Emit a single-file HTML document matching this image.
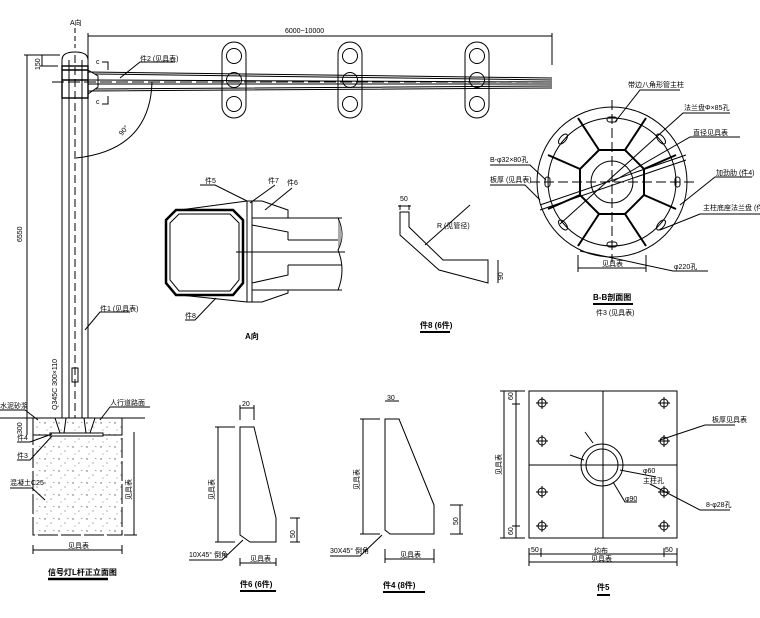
<!DOCTYPE html>
<html><head><meta charset="utf-8"><style>
html,body{margin:0;padding:0;background:#fff}
svg{display:block}
text{font-family:"Liberation Sans","Noto Sans CJK SC",sans-serif;fill:#000}
.t{font-size:7px}
.b{font-size:8px;font-weight:bold}
</style></head><body>
<svg width="760" height="618" viewBox="0 0 760 618" xmlns="http://www.w3.org/2000/svg" fill="none" stroke="#000" stroke-width="1">
<defs>
<pattern id="conc" width="14" height="12" patternUnits="userSpaceOnUse">
<circle cx="3" cy="3" r="0.7" fill="#555" stroke="none"/><circle cx="9" cy="7" r="0.6" fill="#777" stroke="none"/><circle cx="5" cy="10" r="0.5" fill="#666" stroke="none"/><path d="M11 2l1.5 1" stroke="#777" stroke-width="0.6"/>
</pattern>
</defs>
<!-- A arrow -->
<text x="70" y="25" class="t" stroke="none">A向</text>
<line x1="75" y1="28" x2="75" y2="48" stroke-dasharray="5 3"/>
<!-- top dim -->
<line x1="88" y1="36" x2="552" y2="36"/>
<line x1="88" y1="33" x2="88" y2="65"/><line x1="552" y1="33" x2="552" y2="65"/>
<text x="285" y="33" class="t" stroke="none">6000~10000</text>
<!-- pole -->
<path d="M62 418 V60 Q62 52 75 52 Q88 52 88 60 V418"/>
<line x1="69" y1="60" x2="69" y2="418"/><line x1="82" y1="60" x2="82" y2="418"/>
<line x1="75" y1="55" x2="75" y2="418" stroke-dasharray="8 4"/>
<rect x="62" y="66" width="26" height="32" stroke-width="1.4"/>
<line x1="62" y1="70" x2="88" y2="70" stroke-width="1.5"/><line x1="62" y1="80" x2="88" y2="80" stroke-width="1.5"/>
<rect x="72" y="368" width="6" height="14"/>
<!-- left dims -->
<line x1="27" y1="55" x2="27" y2="418"/><line x1="24" y1="55" x2="60" y2="55"/>
<text transform="translate(22,242) rotate(-90)" class="t" stroke="none">6550</text>
<line x1="42" y1="55" x2="42" y2="66"/><line x1="40" y1="66" x2="58" y2="66"/>
<text transform="translate(40,70) rotate(-90)" class="t" stroke="none">150</text>
<!-- arm -->
<path d="M88 72 L552 78 M88 91 L552 88 M88 80 L552 82 M88 84 L552 84 M95 74 L552 80 M95 89 L552 86"/>
<line x1="52" y1="82" x2="552" y2="82" stroke-dasharray="12 4"/>
<path d="M88 70 L98 76 L98 87 L88 94" />
<text x="96" y="64" class="t" stroke="none">c</text><path d="M102 62h6v8"/>
<text x="96" y="104" class="t" stroke="none">c</text><path d="M102 104h6v-8"/>
<path d="M120 78 L140 62 H175"/><text x="140" y="61" class="t" stroke="none">件2 (见具表)</text>
<!-- 90 arc -->
<path d="M152 82 Q150 150 76 158"/>
<text transform="translate(122,136) rotate(-50)" class="t" stroke="none">90°</text>
<!-- signal heads -->
<g>
<rect x="222" y="42" width="24" height="76" rx="12"/><circle cx="234" cy="56" r="7.5"/><circle cx="234" cy="80" r="7.5"/><circle cx="234" cy="104" r="7.5"/>
<rect x="338" y="42" width="24" height="76" rx="12"/><circle cx="350" cy="56" r="7.5"/><circle cx="350" cy="80" r="7.5"/><circle cx="350" cy="104" r="7.5"/>
<rect x="465" y="42" width="24" height="76" rx="12"/><circle cx="477" cy="56" r="7.5"/><circle cx="477" cy="80" r="7.5"/><circle cx="477" cy="104" r="7.5"/>
</g>
<path d="M85 330 L100 312 H130"/><text x="100" y="311" class="t" stroke="none">件1 (见具表)</text>
<text transform="translate(57,410) rotate(-90)" class="t" stroke="none">Q345C 300×110</text>
<!-- ground / foundation -->
<line x1="0" y1="418" x2="145" y2="418"/>
<rect x="33" y="418" width="89" height="17" fill="url(#conc)"/>
<rect x="33" y="435" width="89" height="100" fill="url(#conc)" stroke-dasharray="20 3"/>
<rect x="50" y="433" width="53" height="3" fill="#fff"/>
<path d="M55 418 L60 433 M95 418 L90 433 M66 418 L64 433 M84 418 L86 433"/>
<text x="0" y="408" class="t" stroke="none">水泥砂浆</text><path d="M0 410 H25 L38 420"/>
<text x="110" y="405" class="t" stroke="none">人行道路面</text><path d="M150 407 H110 L100 420"/>
<line x1="27" y1="418" x2="27" y2="435"/><text transform="translate(22,434) rotate(-90)" class="t" stroke="none">300</text>
<text x="17" y="440" class="t" stroke="none">件4</text><path d="M17 442 H30 L52 434"/>
<text x="17" y="458" class="t" stroke="none">件3</text><path d="M17 460 H30 L52 436"/>
<text x="10" y="485" class="t" stroke="none">混凝土C25</text><path d="M10 488 H32 L45 500"/>
<line x1="134" y1="432" x2="134" y2="535"/><line x1="124" y1="535" x2="137" y2="535"/>
<text transform="translate(131,500) rotate(-90)" class="t" stroke="none">见具表</text>
<line x1="33" y1="550" x2="122" y2="550"/><line x1="33" y1="545" x2="33" y2="554"/><line x1="122" y1="545" x2="122" y2="554"/>
<text x="68" y="548" class="t" stroke="none">见具表</text>
<text x="48" y="575" class="b" stroke="none">信号灯L杆正立面图</text>
<line x1="48" y1="579" x2="108" y2="579" stroke-width="2.5"/>
<!-- A view -->
<path d="M176 210 L233 210 L243 220 L243 283 L233 295 L176 295 L166 283 L166 220 Z" stroke-width="2.5"/>
<path d="M179 214 L230 214 L239 223 L239 280 L230 291 L179 291 L170 280 L170 223 Z"/>
<path d="M180 210 L247 201 M180 295 L247 302"/>
<rect x="247" y="201" width="5" height="101"/>
<path d="M252 201 L262 201 L288 210 V218 M252 302 L262 302 L288 293 V290 M252 218 H342 M252 290 H342 M252 225 L288 232 V240 M252 283 L288 275 V265 M288 240 H342 M288 265 H342 M236 252 H345"/>
<path d="M338 218 Q346 235 338 250 Q346 270 338 290" />
<path d="M338 220 Q346 235 338 248" fill="#aaa" stroke="none"/>
<text x="205" y="183" class="t" stroke="none">件5</text><path d="M200 185 H215 L247 201"/>
<text x="268" y="183" class="t" stroke="none">件7</text><path d="M275 185 L250 203"/>
<text x="287" y="185" class="t" stroke="none">件6</text><path d="M292 188 L265 210"/>
<text x="185" y="318" class="t" stroke="none">件8</text><path d="M185 320 H195 L216 298"/>
<text x="245" y="339" class="b" stroke="none">A向</text>
<!-- part 8 -->
<path d="M400 212 H409 V227 L443 260 H488 V283 L439 270 L400 235 Z"/>
<path d="M400 205 V210 M409 205 V210 M398 206 H411"/><text x="400" y="201" class="t" stroke="none">50</text>
<path d="M425 245 L470 205"/><text x="437" y="228" class="t" stroke="none">R (见管径)</text>
<line x1="498" y1="260" x2="498" y2="283"/><text transform="translate(503,280) rotate(-90)" class="t" stroke="none">90</text>
<text x="420" y="328" class="b" stroke="none">件8 (6件)</text>
<line x1="420" y1="332" x2="450" y2="332" stroke-width="2"/>
<!-- B-B -->
<circle cx="612" cy="182" r="75"/><circle cx="612" cy="182" r="64"/>
<path d="M599 150 L625 150 L644 169 L644 195 L625 214 L599 214 L580 195 L580 169 Z" stroke-width="2"/>
<circle cx="612" cy="182" r="21"/>
<path d="M599 150 L578 118 M625 150 L646 118 M644 169 L676 155 M644 195 L676 209 M625 214 L646 246 M599 214 L578 246 M580 195 L548 209 M580 169 L548 155" stroke-width="2"/>
<path d="M530 182 H695 M612 100 V262" stroke-dasharray="10 4"/>
<g stroke-width="1"><rect x="607" y="117" width="10" height="5" rx="2.5"/><rect x="607" y="242" width="10" height="5" rx="2.5"/><rect x="545" y="177" width="5" height="10" rx="2.5"/><rect x="675" y="177" width="5" height="10" rx="2.5"/>
<ellipse cx="563" cy="139" rx="3" ry="6" transform="rotate(40 563 139)"/><ellipse cx="661" cy="139" rx="3" ry="6" transform="rotate(-40 661 139)"/><ellipse cx="563" cy="225" rx="3" ry="6" transform="rotate(-40 563 225)"/><ellipse cx="661" cy="225" rx="3" ry="6" transform="rotate(40 661 225)"/></g>
<path d="M540 205 L686 155 M540 210 L686 160"/>
<text x="628" y="87" class="t" stroke="none">带边八角形管主柱</text><path d="M680 90 H640 L615 122"/>
<text x="684" y="110" class="t" stroke="none">法兰盘Φ×85孔</text><path d="M730 113 H683 L560 224"/>
<text x="693" y="135" class="t" stroke="none">直径见具表</text><path d="M740 137 H690 L612 182"/>
<text x="716" y="175" class="t" stroke="none">加劲肋 (件4)</text><path d="M752 177 H715 L680 205"/>
<text x="703" y="210" class="t" stroke="none">主柱底座法兰盘 (件3)</text><path d="M760 214 H700 L660 230"/>
<text x="490" y="162" class="t" stroke="none">B-φ32×80孔</text><path d="M490 165 H530 L546 180"/>
<text x="490" y="182" class="t" stroke="none">板厚 (见具表)</text><path d="M490 185 H525 L540 200"/>
<path d="M580 251 L673 271 L708 271"/><text x="674" y="269" class="t" stroke="none">φ220孔</text>
<line x1="578" y1="268" x2="646" y2="268"/><line x1="578" y1="255" x2="578" y2="272"/><line x1="646" y1="255" x2="646" y2="272"/>
<text x="602" y="266" class="t" stroke="none">见具表</text>
<text x="593" y="300" class="b" stroke="none">B-B剖面图</text>
<line x1="593" y1="304" x2="633" y2="304" stroke-width="2"/>
<text x="596" y="315" class="t" stroke="none">件3 (见具表)</text>
<!-- part 6 -->
<path d="M240 427 H254 L276 518 V542 H250 L240 535 Z"/>
<line x1="215" y1="427" x2="235" y2="427"/><line x1="215" y1="542" x2="235" y2="542"/><line x1="218" y1="427" x2="218" y2="542"/>
<text transform="translate(214,500) rotate(-90)" class="t" stroke="none">见具表</text>
<line x1="240" y1="408" x2="254" y2="408"/><line x1="240" y1="405" x2="240" y2="420"/><line x1="254" y1="405" x2="254" y2="420"/>
<text x="242" y="406" class="t" stroke="none">20</text>
<line x1="297" y1="518" x2="297" y2="542"/><line x1="290" y1="518" x2="300" y2="518"/><line x1="290" y1="542" x2="300" y2="542"/>
<text transform="translate(295,538) rotate(-90)" class="t" stroke="none">50</text>
<line x1="240" y1="563" x2="276" y2="563"/><line x1="240" y1="558" x2="240" y2="566"/><line x1="276" y1="558" x2="276" y2="566"/>
<text x="250" y="561" class="t" stroke="none">见具表</text>
<text x="189" y="557" class="t" stroke="none">10X45° 倒角</text><path d="M189 560 H222 L243 540"/>
<text x="240" y="587" class="b" stroke="none">件6 (6件)</text>
<line x1="240" y1="591" x2="276" y2="591" stroke-width="2"/>
<!-- part 4 -->
<path d="M385 419 H399 L434 505 V534 H390 L385 530 Z"/>
<line x1="360" y1="419" x2="380" y2="419"/><line x1="360" y1="534" x2="380" y2="534"/><line x1="363" y1="419" x2="363" y2="534"/>
<text transform="translate(359,490) rotate(-90)" class="t" stroke="none">见具表</text>
<line x1="385" y1="401" x2="399" y2="401"/><text x="387" y="400" class="t" stroke="none">30</text>
<line x1="460" y1="505" x2="460" y2="534"/><line x1="450" y1="505" x2="463" y2="505"/><line x1="450" y1="534" x2="463" y2="534"/>
<text transform="translate(458,525) rotate(-90)" class="t" stroke="none">50</text>
<line x1="385" y1="559" x2="434" y2="559"/><line x1="385" y1="549" x2="385" y2="563"/><line x1="434" y1="549" x2="434" y2="563"/>
<text x="400" y="557" class="t" stroke="none">见具表</text>
<text x="330" y="553" class="t" stroke="none">30X45° 倒角</text><path d="M330 556 H360 L382 535"/>
<text x="383" y="588" class="b" stroke="none">件4 (8件)</text>
<line x1="383" y1="592" x2="425" y2="592" stroke-width="2"/>
<!-- part 5 -->
<rect x="529" y="391" width="148" height="147"/>
<line x1="603" y1="391" x2="603" y2="538"/><line x1="529" y1="465" x2="677" y2="465"/>
<line x1="560" y1="465" x2="650" y2="465" stroke-dasharray="8 4" stroke="#fff" stroke-width="0"/>
<circle cx="602" cy="465" r="21"/><circle cx="602" cy="465" r="16"/>
<g>
<circle cx="542" cy="403" r="4"/><circle cx="542" cy="441" r="4"/><circle cx="542" cy="492" r="4"/><circle cx="542" cy="526" r="4"/>
<circle cx="664" cy="403" r="4"/><circle cx="664" cy="441" r="4"/><circle cx="664" cy="492" r="4"/><circle cx="664" cy="526" r="4"/>
<path d="M536 403h12M542 397v12M536 441h12M542 435v12M536 492h12M542 486v12M536 526h12M542 520v12M658 403h12M664 397v12M658 441h12M664 435v12M658 492h12M664 486v12M658 526h12M664 520v12"/>
</g>
<path d="M585 432 L593 443 M570 455 L584 460"/>
<path d="M620 470 L656 477 M650 484 L700 510 H730 M660 440 L705 425 H735"/>
<path d="M613 482 L625 502 H637"/>
<text x="643" y="473" class="t" stroke="none">φ60</text><text x="643" y="483" class="t" stroke="none">主柱孔</text>
<text x="625" y="501" class="t" stroke="none">φ90</text>
<text x="712" y="422" class="t" stroke="none">板厚见具表</text>
<text x="706" y="507" class="t" stroke="none">8-φ28孔</text>
<line x1="504" y1="391" x2="504" y2="538"/><line x1="516" y1="391" x2="516" y2="538"/>
<line x1="500" y1="391" x2="525" y2="391"/><line x1="500" y1="538" x2="525" y2="538"/><line x1="512" y1="404" x2="520" y2="404"/><line x1="512" y1="526" x2="520" y2="526"/>
<text transform="translate(513,400) rotate(-90)" class="t" stroke="none">60</text>
<text transform="translate(513,535) rotate(-90)" class="t" stroke="none">60</text>
<text transform="translate(501,475) rotate(-90)" class="t" stroke="none">见具表</text>
<line x1="529" y1="554" x2="677" y2="554"/><line x1="529" y1="562" x2="677" y2="562"/>
<line x1="529" y1="548" x2="529" y2="566"/><line x1="677" y1="548" x2="677" y2="566"/><line x1="541" y1="548" x2="541" y2="557"/><line x1="664" y1="548" x2="664" y2="557"/>
<text x="531" y="552" class="t" stroke="none">50</text><text x="665" y="552" class="t" stroke="none">50</text>
<text x="594" y="553" class="t" stroke="none">均布</text><text x="591" y="561" class="t" stroke="none">见具表</text>
<text x="597" y="590" class="b" stroke="none">件5</text>
<line x1="597" y1="595" x2="610" y2="595" stroke-width="2"/>
</svg>
</body></html>
